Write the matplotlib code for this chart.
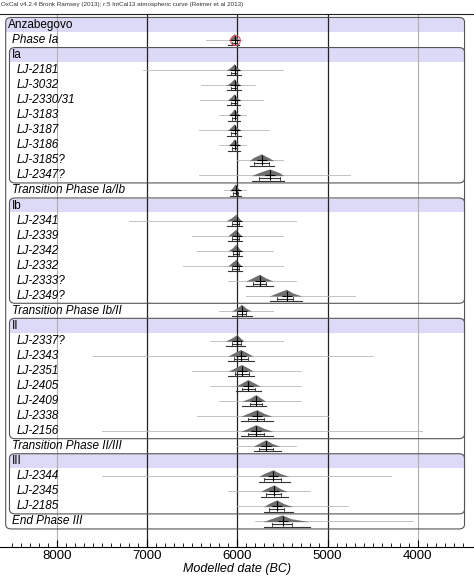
import matplotlib
matplotlib.use("Agg")
import matplotlib.pyplot as plt
from matplotlib.patches import FancyBboxPatch, Rectangle

plt.rcParams['font.family'] = ['Liberation Sans', 'DejaVu Sans']

labels = ["Anzabegovo", "Phase Ia", "Ia", "LJ-2181", "LJ-3032", "LJ-2330/31", "LJ-3183", "LJ-3187",
          "LJ-3186", "LJ-3185?", "LJ-2347?", "Transition Phase Ia/Ib", "Ib", "LJ-2341", "LJ-2339",
          "LJ-2342", "LJ-2332", "LJ-2333?", "LJ-2349?", "Transition Phase Ib/II", "II", "LJ-2337?",
          "LJ-2343", "LJ-2351", "LJ-2405", "LJ-2409", "LJ-2338", "LJ-2156", "Transition Phase II/III",
          "III", "LJ-2344", "LJ-2345", "LJ-2185", "End Phase III"]
kinds = ["h", "p", "h", "d", "d", "d", "d", "d", "d", "d", "d", "p", "h", "d", "d", "d", "d", "d", "d",
         "p", "h", "d", "d", "d", "d", "d", "d", "d", "p", "h", "d", "d", "d", "p"]
median = [0, 6030, 0, 6030, 6030, 6030, 6030, 6030, 6030, 5730, 5640, 6020, 0, 6010, 6010, 6010, 6010,
          5750, 5450, 5950, 0, 6000, 5960, 5950, 5880, 5790, 5780, 5790, 5680, 0, 5600, 5590, 5560, 5500]
r68lo = [0, 6060, 0, 6070, 6070, 6070, 6060, 6070, 6060, 5820, 5760, 6050, 0, 6060, 6060, 6050, 6060,
         5830, 5560, 6000, 0, 6060, 6040, 6030, 5950, 5860, 5880, 5880, 5760, 0, 5700, 5680, 5650, 5620]
r68hi = [0, 6000, 0, 6000, 6000, 6000, 6000, 6000, 6000, 5650, 5530, 5990, 0, 5980, 5980, 5980, 5980,
         5680, 5380, 5900, 0, 5960, 5880, 5870, 5800, 5730, 5700, 5700, 5610, 0, 5520, 5520, 5480, 5400]
r95lo = [0, 6100, 0, 6120, 6120, 6110, 6100, 6110, 6100, 5860, 5840, 6080, 0, 6120, 6100, 6100, 6100,
         5900, 5640, 6060, 0, 6130, 6100, 6100, 6020, 5950, 5960, 5960, 5820, 0, 5760, 5740, 5700, 5710]
r95hi = [0, 5980, 0, 5960, 5960, 5970, 5970, 5960, 5970, 5590, 5480, 5960, 0, 5950, 5950, 5950, 5950,
         5600, 5280, 5840, 0, 5920, 5820, 5820, 5740, 5680, 5610, 5600, 5520, 0, 5420, 5440, 5380, 5200]
prior_lo = [0, 6350, 0, 7050, 6400, 6420, 6200, 6430, 6200, 6000, 6430, 6150, 0, 7200, 6500, 6450, 6600,
            6100, 5900, 6200, 0, 6300, 7600, 6500, 6300, 6200, 6450, 7500, 6000, 0, 7500, 6100, 6000, 5800]
prior_hi = [0, 5950, 0, 5500, 5800, 5720, 5900, 5650, 5900, 5500, 4750, 5900, 0, 5350, 5500, 5600, 5500,
            5350, 4700, 5600, 0, 5500, 4500, 5300, 5300, 5300, 5000, 3950, 5350, 0, 4300, 5200, 4770, 4050]

fig = plt.figure(figsize=(4.74, 5.77), dpi=100)
ax = fig.add_axes([0.0, 1 - 547 / 577, 1.0, (547 - 14) / 577])
ax.set_xlim(8632, 3377)
ax.set_ylim(-34.7, 0.73)
ytr = ax.get_yaxis_transform()
n = len(labels)

def rbox(y_top, y_bot, x0, x1, lw=0.8):
    p = FancyBboxPatch((x0, y_bot), x1 - x0, y_top - y_bot, boxstyle="round,pad=0,rounding_size=0.012",
                       mutation_aspect=25, transform=ytr, fc="none", ec="#555555", lw=lw, zorder=1)
    ax.add_patch(p)

rbox(0.5, -33.5, 0.012, 0.98)
for start, end in [(2, 10), (12, 18), (20, 27), (29, 32)]:
    rbox(-start + 0.5, -end - 0.5, 0.02, 0.98)
for i in range(n):
    if kinds[i] == "h":
        x0 = 0.013 if i == 0 else 0.021
        ax.add_patch(Rectangle((x0, -i - 0.45), 0.978 - x0, 0.9, transform=ytr, fc="#dcdaf6", ec="none", zorder=0.5))

for xv in [8000, 4000]:
    ax.axvline(xv, color="#b0b0b0", lw=0.8, zorder=0.8)
for xv in [7000, 6000, 5000]:
    ax.axvline(xv, color="#222222", lw=0.9, zorder=0.8)

for i in range(n):
    y = -i
    k = kinds[i]
    if k == "h":
        ax.text(0.017 if i == 0 else 0.026, y, labels[i], transform=ytr, va="center", ha="left", fontsize=8.5)
        continue
    xoff = 0.036 if k == "d" else 0.026
    ax.text(xoff, y, labels[i], transform=ytr, va="center", ha="left", fontsize=8.5, style="italic")
    ax.plot([prior_lo[i], prior_hi[i]], [y, y], color="#b8b8b8", lw=0.6, zorder=2)
    ax.fill([r95lo[i], r68lo[i], median[i], r68hi[i], r95hi[i]], [y - 0.05, y + 0.15, y + 0.4, y + 0.15, y - 0.05],
            color="#6e6e6e", lw=0, zorder=3)
    ax.plot([r68lo[i], r68hi[i]], [y - 0.2, y - 0.2], color="#333333", lw=0.8, zorder=4)
    ax.plot([r95lo[i], r95hi[i]], [y - 0.35, y - 0.35], color="#333333", lw=0.8, zorder=4)
    for xv in [r68lo[i], r68hi[i]]:
        ax.plot([xv, xv], [y - 0.1, y - 0.3], color="#333333", lw=0.6, zorder=4)
    ax.plot(median[i], y, marker="+", color="black", ms=7, mew=0.8, zorder=5)
    if i == 1:
        ax.plot(median[i], y, marker="o", mfc="none", mec="#e05060", ms=7, mew=0.8, zorder=5)

ax.set_yticks([])
ax.set_xticks([8000, 7000, 6000, 5000, 4000])
ax.set_xticklabels(["8000", "7000", "6000", "5000", "4000"], fontsize=9.5)
ax.set_xticks(range(8500, 3400, -100), minor=True)
ax.tick_params(axis="x", direction="in", length=5, pad=2)
ax.tick_params(axis="x", which="minor", direction="in", length=3)
for s in ["left", "right"]:
    ax.spines[s].set_visible(False)
ax.spines["top"].set_color("#222222")
ax.set_xlabel("Modelled date (BC)", fontsize=9, style="italic", labelpad=1)
fig.text(0.003, 0.997, "OxCal v4.2.4 Bronk Ramsey (2013); r:5 IntCal13 atmospheric curve (Reimer et al 2013)",
         fontsize=4.5, va="top", ha="left", color="#333333")
fig.savefig("out.png", dpi=100)
